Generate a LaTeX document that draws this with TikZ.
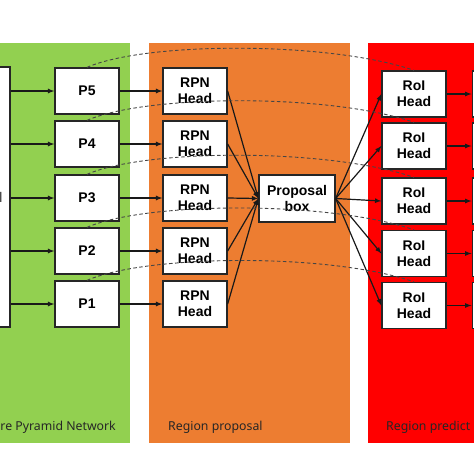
\documentclass[tikz,border=0pt]{standalone}
\usepackage{fontspec}
\setmainfont{Liberation Sans}
\newfontfamily\labelfont{Noto Sans}
\usetikzlibrary{arrows,positioning,calc}
\definecolor{fpngreen}{HTML}{92D050}
\definecolor{rporange}{HTML}{ED7D31}
\definecolor{rdred}{HTML}{FF0000}

\begin{document}
\begin{tikzpicture}[x=1pt,y=-1pt,>=latex,
  box/.style={draw=black!85,line width=1.3pt,fill=white,minimum width=64pt,minimum height=46pt,inner sep=0pt,align=center,font=\fontsize{14}{16}\selectfont\bfseries},
  link/.style={->,line width=1.2pt,black!90},
  skip/.style={dash pattern=on 3.5pt off 2.5pt,gray!55!black,line width=0.9pt},
  lbl/.style={inner sep=0pt,text=black!85,font=\labelfont\fontsize{12.3}{14}\selectfont}]
\useasboundingbox (0,0) rectangle (474,474);
% draw stage panels
\fill[fpngreen] (-10,43) rectangle (130,443);
\fill[rporange] (149,43) rectangle (350,443);
\fill[rdred] (368,43) rectangle (484,443);
% backbone box, cut at the left edge
\node[box,minimum width=40pt,minimum height=260pt,anchor=east] (bb) at (10.5,197) {};
\node[font=\fontsize{14}{16}\selectfont\bfseries,text=black!70,inner sep=0pt] (bbtext) at (0.5,197) {l};
% draw rows of boxes
\foreach \i/\y/\r in {5/91/94,4/144/146,3/198/201,2/251/253.5,1/304/305.5}{
  \node[box] (P\i) at (87,\y) {P\i};
  \node[box] (rpn\i) at (195,\y) {RPN\\Head};
  \node[box] (roi\i) at (414,\r) {RoI\\Head};
  \node[box,anchor=west,minimum width=30pt] (out\i) at (471.5,\r) {};
}
\node[box,minimum width=76pt,minimum height=47pt] (prop) at (297,198.5) {Proposal\\box};
% draw arrows
\foreach \i in {1,...,5}{
  \draw[link] (bb.east |- P\i) -- (P\i.west);
  \draw[link] (P\i.east) -- (rpn\i.west);
  \draw[link] (rpn\i.east) -- (prop.west);
  \draw[link] (prop.east) -- (roi\i.west);
  \draw[link] (roi\i.east) -- (out\i.west);
}
% draw dashed skips
\foreach \i in {1,...,5}
  \draw[skip] (P\i.north) .. controls +(60,-26) and +(-84,-29) .. (roi\i.north);
% stage labels (as far as they show)
\node[lbl,anchor=east] (fpnlbl) at (116,427) {re Pyramid Network};
\node[lbl,anchor=west] (rplbl) at (168,427) {Region proposal};
\node[lbl,anchor=west] (rdlbl) at (386,427) {Region predict};
\end{tikzpicture}
\end{document}
